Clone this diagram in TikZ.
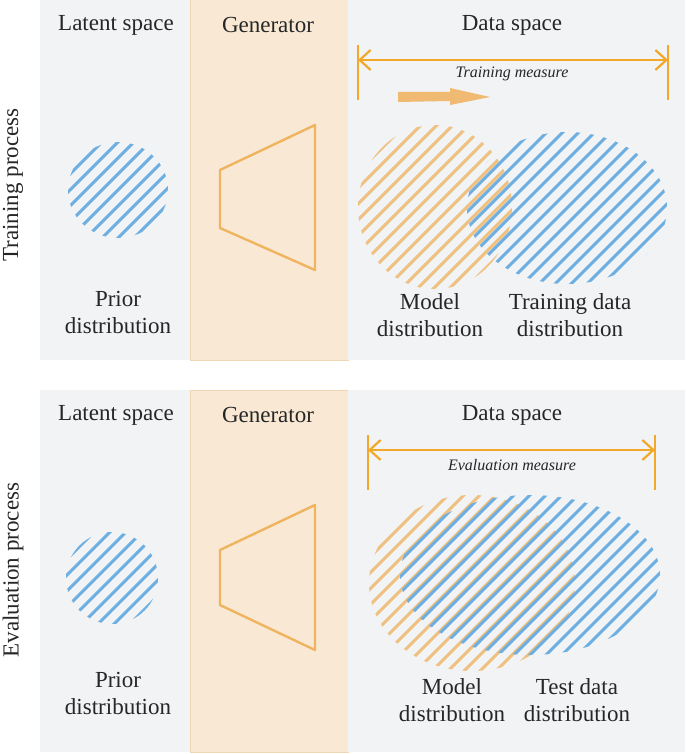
\documentclass[tikz,border=0pt]{standalone}
\usepackage{fontspec}
\setmainfont{Liberation Serif}
\usetikzlibrary{arrows.meta}
\begin{document}
\begin{tikzpicture}[x=1pt,y=-1pt,
  lbl/.style={font=\fontsize{23}{27}\selectfont,align=center,text=black!85},
  meas/.style={font=\fontsize{16}{18}\selectfont\itshape,text=black!85},
  hatchline/.style={line width=3pt,line cap=round},
  trap/.style={draw=trapc,line width=2.4pt,line join=round},
  tick/.style={draw=barc,line width=2.4pt},
  measarrow/.style={draw=barc,line width=2.2pt,{Straight Barb[length=11pt,width=20pt]}-{Straight Barb[length=11pt,width=20pt]}}]
\definecolor{panel}{RGB}{242,243,245}
\definecolor{gen}{RGB}{249,233,212}
\definecolor{genedge}{RGB}{240,215,180}
\definecolor{hblue}{RGB}{110,175,225}
\definecolor{horange}{RGB}{240,180,100}
\definecolor{trapc}{RGB}{240,180,95}
\definecolor{barc}{RGB}{242,168,40}
\useasboundingbox (0,0) rectangle (685,754);
\fill[white] (0,0) rectangle (685,754);
\newcommand{\hatchit}[5]{%
  \begin{scope}
  \clip (#1,#2) ellipse [x radius=#3, y radius=#4];
  \foreach \k in {-320,-304,...,320}
    \draw[hatchline,#5] (#1+\k-200,#2+200) -- (#1+\k+200,#2-200);
  \end{scope}}
% panels
\foreach \t/\b in {0/360,390/752}{
  \fill[panel] (40,\t) rectangle (190,\b);
  \fill[gen] (190,\t) rectangle (348,\b);
  \draw[genedge,line width=1pt] (190,\t) rectangle (348,\b);
  \fill[panel] (348,\t) rectangle (685,\b);
}
% top row
\node[lbl] (ls1) at (116,25) {Latent space};
\node[lbl] (g1) at (268,25) {Generator};
\node[lbl] (ds1) at (512,25) {Data space};
\node[lbl,rotate=90] (tp) at (13,185) {Training process};
\hatchit{118}{190}{50}{48}{hblue}
\draw[trap] (220,170) -- (315,125) -- (315,270) -- (220,228) -- cycle;
\hatchit{435}{207}{77}{82}{horange,opacity=0.8}
\hatchit{567}{208}{100}{76}{hblue}
\node[lbl] (pd1) at (118,312) {Prior\\distribution};
\node[lbl] (md1) at (430,315) {Model\\distribution};
\node[lbl] (td1) at (570,315) {Training data\\distribution};
\coordinate (a1) at (358,60); \coordinate (b1) at (668,60);
\draw[tick] (358,45) -- (358,100) (668,45) -- (668,100);
\draw[measarrow] (a1) -- (b1);
\node[meas] (tm) at (512,74) {Training measure};
\fill[horange,opacity=0.9] (398,92) -- (450,92) -- (450,88) -- (490,97) -- (450,105) -- (450,101) -- (398,102) -- cycle;
% bottom row
\node[lbl] (ls2) at (116,415) {Latent space};
\node[lbl] (g2) at (268,415) {Generator};
\node[lbl] (ds2) at (512,415) {Data space};
\node[lbl,rotate=90] (ep) at (13,570) {Evaluation process};
\hatchit{112}{578}{46}{46}{hblue}
\draw[trap] (220,550) -- (315,505) -- (315,650) -- (220,605) -- cycle;
\hatchit{472}{583}{103}{88}{horange,opacity=0.8}
\hatchit{530}{575}{130}{80}{hblue}
\node[lbl] (pd2) at (118,693) {Prior\\distribution};
\node[lbl] (md2) at (452,700) {Model\\distribution};
\node[lbl] (td2) at (577,700) {Test data\\distribution};
\coordinate (a2) at (368,450); \coordinate (b2) at (655,450);
\draw[tick] (368,435) -- (368,490) (655,435) -- (655,490);
\draw[measarrow] (a2) -- (b2);
\node[meas] (em) at (512,465) {Evaluation measure};
\end{tikzpicture}
\end{document}
